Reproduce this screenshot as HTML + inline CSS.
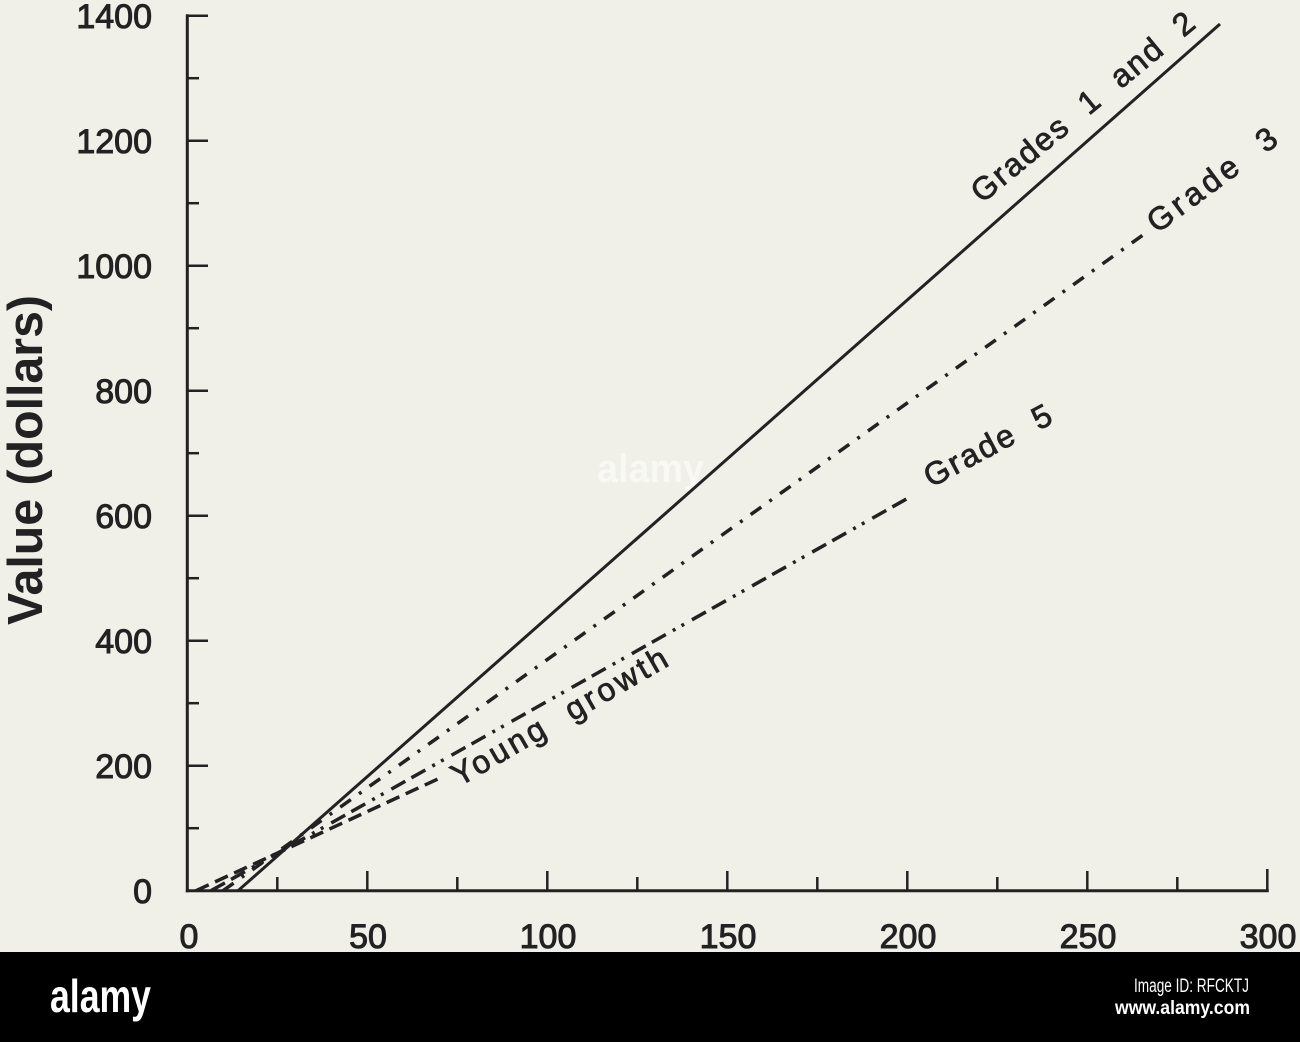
<!DOCTYPE html>
<html>
<head>
<meta charset="utf-8">
<style>
  html, body { margin:0; padding:0; background:#f0f0e9; }
  svg { display:block; }
  .tick { font-family:"Liberation Sans", Arial, sans-serif; font-size:34px; fill:#222; stroke:#222; stroke-width:1; }
  .lbl { font-family:"Liberation Sans", Arial, sans-serif; font-size:32px; fill:#222; stroke:#222; stroke-width:0.8; white-space:pre; }
</style>
</head>
<body>
<svg width="1300" height="1042" viewBox="0 0 1300 1042" xmlns="http://www.w3.org/2000/svg">
  <rect x="0" y="0" width="1300" height="1042" fill="#f0f0e9"/>

  <!-- faint watermark -->
  <text x="597" y="482" font-family="Liberation Sans Narrow, Liberation Sans, sans-serif" font-weight="bold" font-size="40" fill="#ffffff" fill-opacity="0.5" textLength="107" lengthAdjust="spacingAndGlyphs">alamy</text>

  <!-- axes -->
  <g stroke="#222" stroke-width="3" fill="none" stroke-linecap="square">
    <line x1="187.3" y1="15.7" x2="187.3" y2="890.7"/>
    <line x1="187.3" y1="890.7" x2="1267.3" y2="890.7"/>
  </g>

  <!-- y ticks -->
  <g stroke="#222" stroke-width="2.5">
    <line x1="187" y1="15.7" x2="208" y2="15.7"/>
    <line x1="187" y1="78.2" x2="199" y2="78.2"/>
    <line x1="187" y1="140.7" x2="208" y2="140.7"/>
    <line x1="187" y1="203.2" x2="199" y2="203.2"/>
    <line x1="187" y1="265.7" x2="208" y2="265.7"/>
    <line x1="187" y1="328.2" x2="199" y2="328.2"/>
    <line x1="187" y1="390.7" x2="208" y2="390.7"/>
    <line x1="187" y1="453.2" x2="199" y2="453.2"/>
    <line x1="187" y1="515.7" x2="208" y2="515.7"/>
    <line x1="187" y1="578.2" x2="199" y2="578.2"/>
    <line x1="187" y1="640.7" x2="208" y2="640.7"/>
    <line x1="187" y1="703.2" x2="199" y2="703.2"/>
    <line x1="187" y1="765.7" x2="208" y2="765.7"/>
    <line x1="187" y1="828.2" x2="199" y2="828.2"/>
  </g>

  <!-- x ticks -->
  <g stroke="#222" stroke-width="2.5">
    <line x1="277.3" y1="891" x2="277.3" y2="877"/>
    <line x1="367.3" y1="891" x2="367.3" y2="871"/>
    <line x1="457.3" y1="891" x2="457.3" y2="877"/>
    <line x1="547.3" y1="891" x2="547.3" y2="871"/>
    <line x1="637.3" y1="891" x2="637.3" y2="877"/>
    <line x1="727.3" y1="891" x2="727.3" y2="871"/>
    <line x1="817.3" y1="891" x2="817.3" y2="877"/>
    <line x1="907.3" y1="891" x2="907.3" y2="871"/>
    <line x1="997.3" y1="891" x2="997.3" y2="877"/>
    <line x1="1087.3" y1="891" x2="1087.3" y2="871"/>
    <line x1="1177.3" y1="891" x2="1177.3" y2="877"/>
    <line x1="1267.3" y1="891" x2="1267.3" y2="869"/>
  </g>

  <!-- y tick labels -->
  <g class="tick" text-anchor="end">
    <text x="152" y="28">1400</text>
    <text x="152" y="153">1200</text>
    <text x="152" y="278">1000</text>
    <text x="152" y="403">800</text>
    <text x="152" y="528">600</text>
    <text x="152" y="653">400</text>
    <text x="152" y="778">200</text>
    <text x="152" y="903">0</text>
  </g>

  <!-- x tick labels -->
  <g class="tick" text-anchor="middle">
    <text x="189" y="948">0</text>
    <text x="368" y="948">50</text>
    <text x="548" y="948">100</text>
    <text x="728" y="948">150</text>
    <text x="908" y="948">200</text>
    <text x="1088" y="948">250</text>
    <text x="1268" y="948">300</text>
  </g>

  <!-- y axis title -->
  <text transform="translate(42,460) rotate(-90)" text-anchor="middle" font-family="Liberation Sans, Arial, sans-serif" font-weight="bold" font-size="49" fill="#222" textLength="330" lengthAdjust="spacingAndGlyphs">Value (dollars)</text>

  <!-- series -->
  <g fill="none" stroke="#222">
    <line x1="238" y1="890.7" x2="1220" y2="24" stroke-width="3"/>
    <line x1="223" y1="890.7" x2="1150" y2="230" stroke-width="3.5" stroke-dasharray="13 10 3 10"/>
    <line x1="211" y1="890.7" x2="910" y2="497" stroke-width="3.5" stroke-dasharray="16 7 16 8 3 7 3 9"/>
    <line x1="196" y1="890.7" x2="440" y2="778" stroke-width="3.5" stroke-dasharray="14 7"/>
  </g>

  <!-- series labels -->
  <text class="lbl" transform="translate(982,204) rotate(-39.5)" textLength="279" lengthAdjust="spacing">Grades  1  and  2</text>
  <text class="lbl" transform="translate(1157,234) rotate(-36.5)" textLength="153" lengthAdjust="spacing">Grade  3</text>
  <text class="lbl" transform="translate(931,488) rotate(-28)" textLength="140" lengthAdjust="spacing">Grade  5</text>
  <text class="lbl" transform="translate(459,787) rotate(-30)" textLength="244" lengthAdjust="spacing">Young  growth</text>

  <!-- bottom bar -->
  <rect x="0" y="952" width="1300" height="90" fill="#000"/>
  <text x="50" y="1012" font-family="Liberation Sans Narrow, Liberation Sans, sans-serif" font-weight="bold" font-size="46" fill="#fff" textLength="101" lengthAdjust="spacingAndGlyphs">alamy</text>
  <text x="1134" y="992" font-family="Liberation Sans, DejaVu Sans, sans-serif" font-size="19" fill="#fff" textLength="115" lengthAdjust="spacingAndGlyphs">Image ID: RFCKTJ</text>
  <text x="1115" y="1014" font-family="Liberation Sans, DejaVu Sans, sans-serif" font-weight="bold" font-size="19" fill="#fff" textLength="135" lengthAdjust="spacingAndGlyphs">www.alamy.com</text>
</svg>
</body>
</html>
